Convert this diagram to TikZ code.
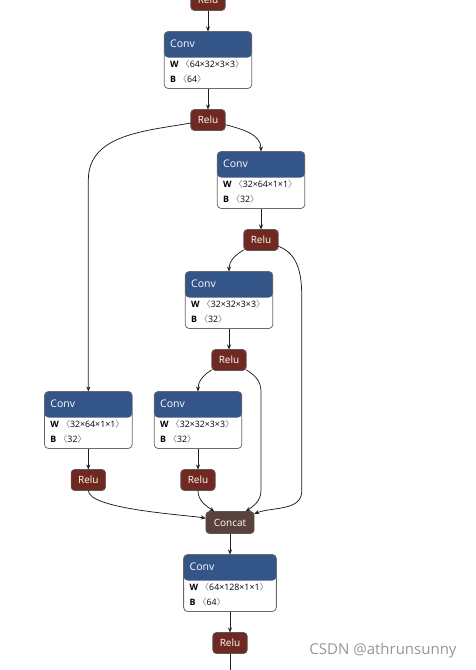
\documentclass[tikz,border=0pt]{standalone}
\usepackage{fontspec}
\setmainfont{Open Sans}
\newfontfamily\cjkfont{Noto Sans CJK SC}
\usetikzlibrary{arrows.meta, positioning}
\definecolor{convblue}{RGB}{51, 85, 136}
\definecolor{relured}{RGB}{112, 41, 33}
\definecolor{concatbrown}{RGB}{89, 66, 59}
\definecolor{boxgray}{RGB}{105, 105, 105}
\definecolor{edgegray}{RGB}{30, 30, 30}
\definecolor{markgray}{RGB}{150, 150, 150}
\newcommand{\dims}[1]{{\cjkfont\color{black!55}〈}#1{\cjkfont\color{black!55}〉}}
\newcommand{\convlabel}[2]{%
  \renewcommand{\arraystretch}{0}%
  \begin{tabular}{@{\hspace{6pt}}l@{\hspace{8pt}}}
    \rule[-10pt]{0pt}{26pt}{\fontsize{10.5}{12}\selectfont\color{white}Conv}\\
    \rule[-5pt]{0pt}{15pt}\textbf{W} \dims{#1}\\
    \rule[-6pt]{0pt}{16pt}\textbf{B} \dims{#2}
  \end{tabular}}
\tikzset{
  convbox/.style={rectangle, rounded corners=4pt, draw=boxgray, line width=0.8pt,
    fill=white, inner sep=0pt, outer sep=0pt, font=\fontsize{8.8}{10}\selectfont,
    path picture={\fill[convblue] (path picture bounding box.north west)
      rectangle ([yshift=-26pt]path picture bounding box.north east);}},
  relu/.style={rectangle, rounded corners=3.5pt, draw=black!65, line width=0.6pt,
    fill=relured, text=white, inner xsep=7pt, inner ysep=0pt, outer sep=0pt,
    minimum height=21pt, font=\fontsize{10}{12}\selectfont},
  concat/.style={rectangle, rounded corners=3.5pt, draw=black!65, line width=0.6pt,
    fill=concatbrown, text=white, inner xsep=8pt, inner ysep=0pt, outer sep=0pt,
    minimum height=22pt, font=\fontsize{10}{12}\selectfont},
  edge/.style={draw=edgegray, line width=0.75pt, -{Stealth[length=5pt,width=4pt]}},
  watermark/.style={text=markgray, font=\fontsize{15}{17}\selectfont}
}
\begin{document}
\begin{tikzpicture}[x=1pt, y=-1pt, node distance=21pt]
\useasboundingbox (0,0) rectangle (475,670);

\node (relu0) [relu] at (208,0) {Relu};
\node (conv1) [convbox, below=of relu0] {\convlabel{64×32×3×3}{64}};
\node (relu2) [relu, below=of conv1] {Relu};
\node (conv2) [convbox, below=of relu2, xshift=53pt] {\convlabel{32×64×1×1}{32}};
\node (relu3) [relu, below=of conv2] {Relu};
\node (conv3) [convbox, below=of relu3, xshift=-32pt] {\convlabel{32×32×3×3}{32}};
\node (relu4) [relu, below=of conv3] {Relu};
\node (conv5) [convbox, below=of relu4, xshift=-31pt] {\convlabel{32×32×3×3}{32}};
\node (conv4) [convbox, left=22pt of conv5] {\convlabel{32×64×1×1}{32}};
\node (relu5) [relu, below=of conv4] {Relu};
\node (relu6) [relu, below=of conv5] {Relu};
\node (concat) [concat, below=of relu6, xshift=32pt] {Concat};
\node (conv6) [convbox, below=of concat] {\convlabel{64×128×1×1}{64}};
\node (relu7) [relu, below=of conv6] {Relu};
\coordinate [below=25pt of relu7] (outlet);
\node (csdn) [watermark] at (383,651) {CSDN @athrunsunny};

\draw[edge] (relu0) -- (conv1);
\draw[edge] (conv1) -- (relu2);
\draw[edge] (relu2) to[out=-15,in=90] (conv2);
\draw[edge] (relu2) to[out=190,in=90] (conv4.north |- conv2.center) -- (conv4);
\draw[edge] (conv2) -- (relu3);
\draw[edge] (relu3) to[out=210,in=90] (conv3);
\draw[edge] (relu3) to[out=-20,in=90] ([xshift=-3pt]conv2.east |- conv3.center)
  -- ([xshift=-3pt]conv2.east |- relu6.south) to[out=-90,in=20] (concat);
\draw[edge] (conv3) -- (relu4);
\draw[edge] (relu4) to[out=210,in=90] (conv5);
\draw[edge] (relu4) to[out=-30,in=90] (relu3 |- conv5.north)
  -- (relu3 |- relu6.south) to[out=-90,in=35] (concat);
\draw[edge] (conv4) -- (relu5);
\draw[edge] (conv5) -- (relu6);
\draw[edge] (relu5) to[out=-90,in=170,looseness=0.4] (concat);
\draw[edge] (relu6) to[out=-90,in=145] (concat);
\draw[edge] (concat) -- (conv6);
\draw[edge] (conv6) -- (relu7);
\draw[edge,-] (relu7) -- (outlet);
\end{tikzpicture}
\end{document}
